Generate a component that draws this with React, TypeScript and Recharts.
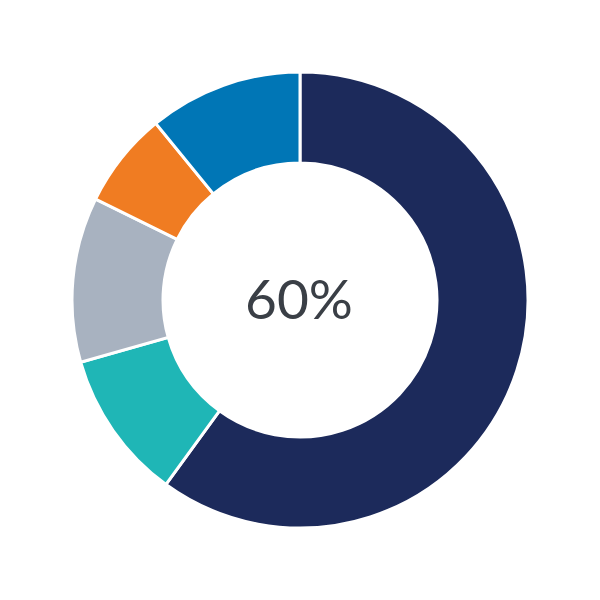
import { PieChart, Pie, Cell } from "recharts";

const segmentNames = ["Primary", "Teal", "Gray", "Orange", "Blue"];
const segmentValues = [60, 10.6, 11.7, 6.8, 10.9];
const segmentColors = ["#1c2a5b", "#1fb6b6", "#a8b2c0", "#f07c22", "#0076b6"];
const centerLabel = "60%";

const data = segmentNames.map((name, i) => ({ name, value: segmentValues[i] }));

export default function App() {
	return (
		<div style={{ width: 600, height: 600, position: "relative" }}>
			<style>{"body{margin:0}"}</style>
			<PieChart
				width={600}
				height={600}
				margin={{ top: 0, right: 0, bottom: 0, left: 0 }}
			>
				<Pie
					data={data}
					dataKey="value"
					cx={300}
					cy={300}
					innerRadius={137}
					outerRadius={228}
					startAngle={90}
					endAngle={-270}
					stroke="#ffffff"
					strokeWidth={3}
					isAnimationActive={false}
				>
					{data.map((d, i) => (
						<Cell key={d.name} fill={segmentColors[i]} />
					))}
				</Pie>
				<text
					x={299}
					y={319}
					textAnchor="middle"
					fontFamily="Lato, sans-serif"
					fontWeight={400}
					fontSize={55}
					fill="#3a3f46"
				>
					{centerLabel}
				</text>
			</PieChart>
		</div>
	);
}
